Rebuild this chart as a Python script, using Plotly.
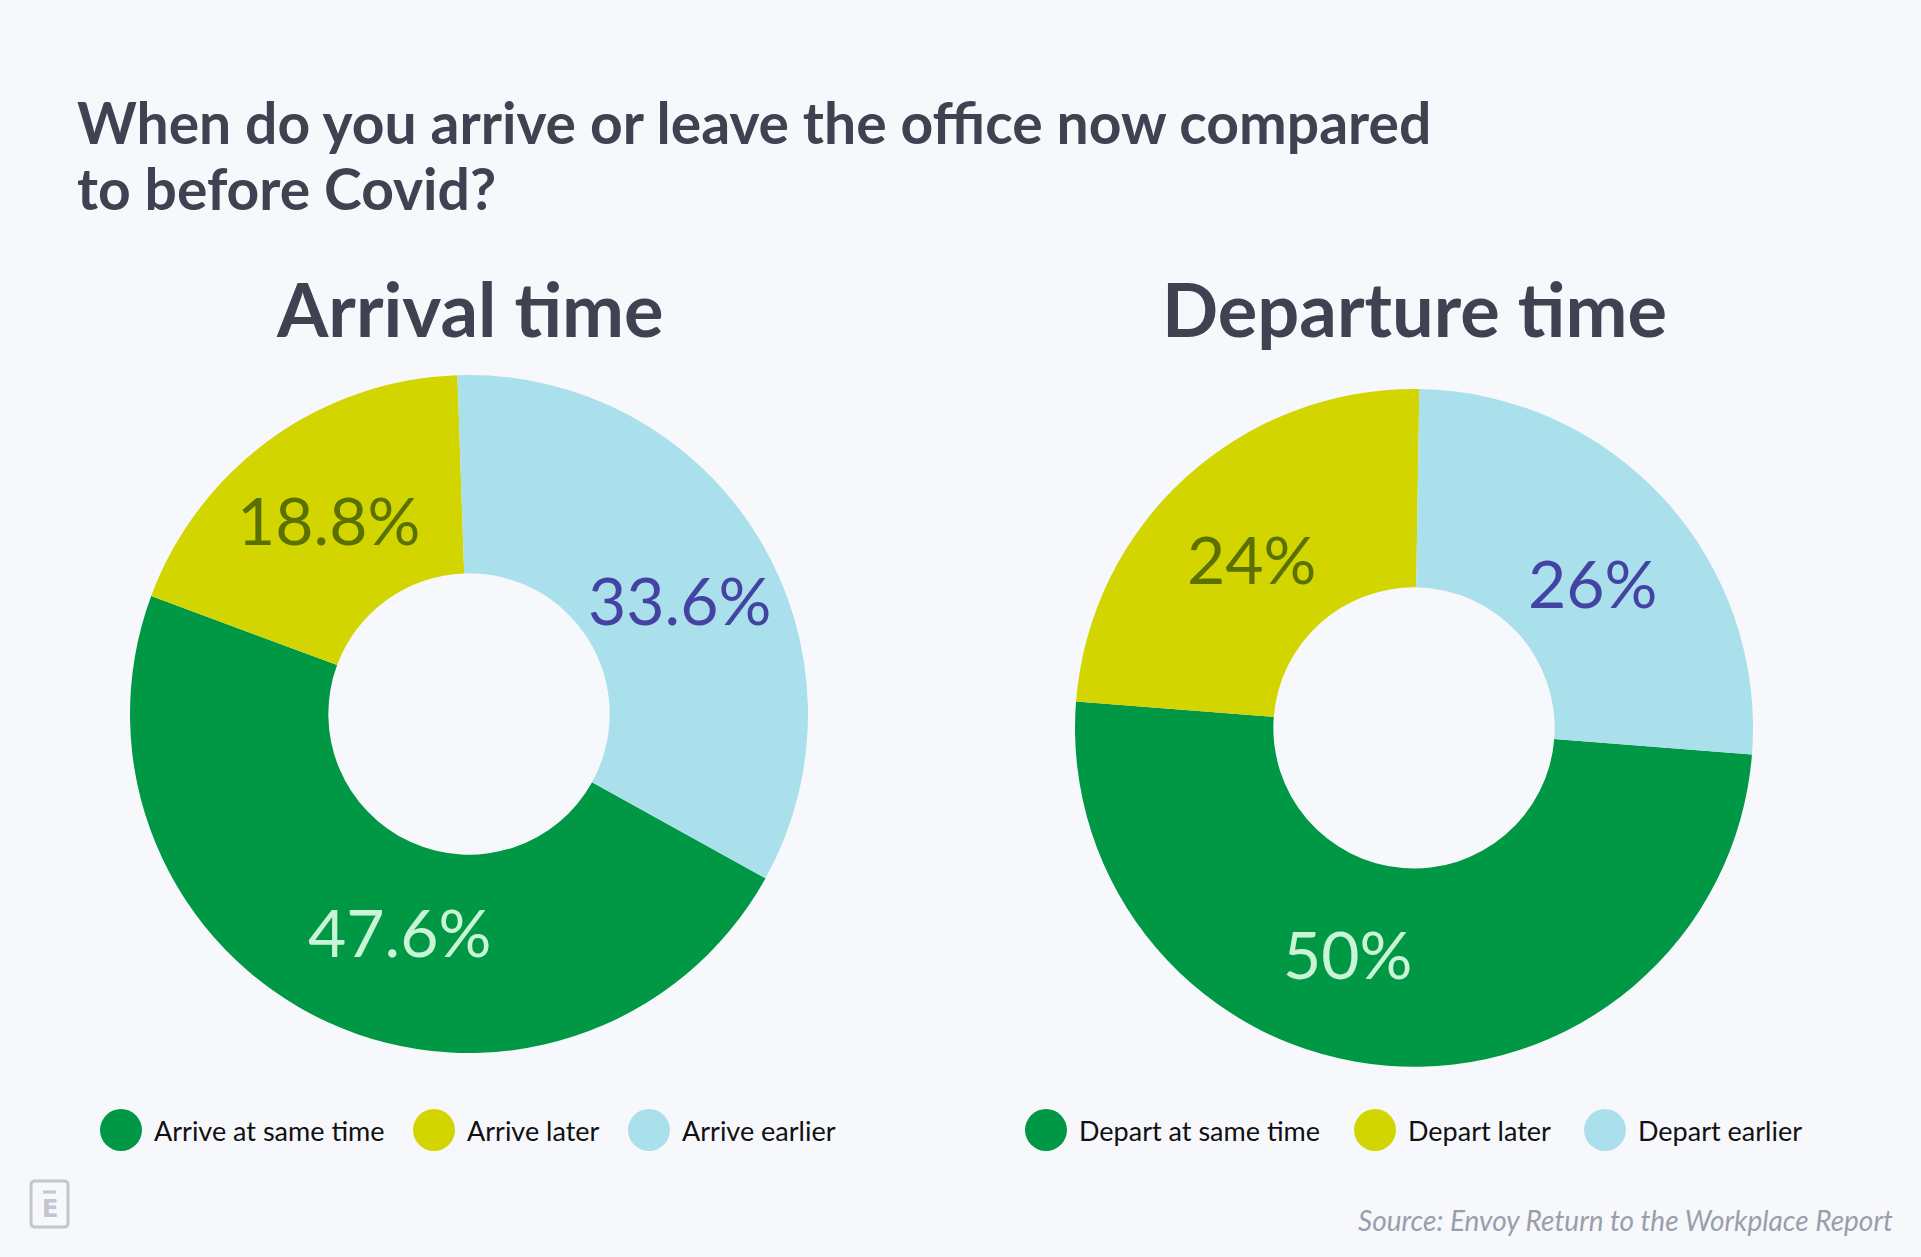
import math
import plotly.graph_objects as go

# ---------------- data ----------------
arrival_labels = ["Arrive at same time", "Arrive later", "Arrive earlier"]
arrival_values = [47.6, 18.8, 33.6]
arrival_text = ["47.6%", "18.8%", "33.6%"]

departure_labels = ["Depart at same time", "Depart later", "Depart earlier"]
departure_values = [50, 24, 26]
departure_text = ["50%", "24%", "26%"]

slice_colors = ["#009845", "#d2d500", "#aadfec"]
text_colors = ["#c9f5d6", "#5a7000", "#4443a3"]

title_lines = ["When do you arrive or leave the office now compared", "to before Covid?"]
subtitles = ["Arrival time", "Departure time"]
source_text = "Source: Envoy Return to the Workplace Report"

W, H = 1921, 1257
BG = "#f7f8fc"
DARK = "#3f4250"
FONT = "Lato"
HOLE = 0.415


def px(x):
    return x / W


def py(y):
    return 1 - y / H


fig = go.Figure()

pies = [
    dict(labels=arrival_labels, values=arrival_values, text=arrival_text,
         cx=469, cy=714, r=339, rot=119, nudge=[-7, 0, 3], rfac=[0.95, 1.0, 1.0]),
    dict(labels=departure_labels, values=departure_values, text=departure_text,
         cx=1414, cy=728, r=339, rot=94.5, nudge=[12, -1.5, 3], rfac=[0.98, 0.98, 0.96]),
]

annotations = []
shapes = []

for p in pies:
    fig.add_trace(go.Pie(
        labels=p["labels"], values=p["values"], text=p["text"],
        textinfo="none",
        marker=dict(colors=slice_colors, line=dict(width=0)),
        hole=HOLE, sort=False, direction="clockwise", rotation=p["rot"],
        showlegend=False, hoverinfo="label+percent",
        domain=dict(x=[px(p["cx"] - p["r"]), px(p["cx"] + p["r"])],
                    y=[py(p["cy"] + p["r"]), py(p["cy"] - p["r"])]),
    ))
    # slice labels placed at the middle of each slice's ring section
    total = sum(p["values"])
    cum = 0.0
    r_mid = p["r"] * (1 + HOLE) / 2
    for v, t, c, nd, rf in zip(p["values"], p["text"], text_colors, p["nudge"], p["rfac"]):
        ang = math.radians(p["rot"] + (cum + v / 2) / total * 360 + nd)
        cum += v
        lx = p["cx"] + r_mid * rf * math.sin(ang)
        ly = p["cy"] - r_mid * rf * math.cos(ang)
        annotations.append(dict(
            x=px(lx), y=py(ly), xref="paper", yref="paper",
            xanchor="center", yanchor="middle", text=t, showarrow=False,
            font=dict(family=FONT, size=66, color=c),
        ))

# main title (two lines)
for line, yc in zip(title_lines, [122, 188]):
    annotations.append(dict(
        x=px(75), y=py(yc), xref="paper", yref="paper", xanchor="left", yanchor="middle",
        text=line, showarrow=False, align="left",
        font=dict(family=FONT, size=57, color=DARK, weight=700),
    ))

# subtitles
for s, cx in zip(subtitles, [470, 1414]):
    annotations.append(dict(
        x=px(cx), y=py(308), xref="paper", yref="paper", xanchor="center", yanchor="middle",
        text=s, showarrow=False,
        font=dict(family=FONT, size=74, color=DARK, weight=700),
    ))

# legends
legend_x = [[121, 434, 649], [1046, 1375, 1605]]
legend_y = 1130
rad = 21
for labels, xs in zip([arrival_labels, departure_labels], legend_x):
    for lab, col, x in zip(labels, slice_colors, xs):
        shapes.append(dict(
            type="circle", xref="paper", yref="paper",
            x0=px(x - rad), x1=px(x + rad), y0=py(legend_y + rad), y1=py(legend_y - rad),
            fillcolor=col, line=dict(width=0),
        ))
        annotations.append(dict(
            x=px(x + rad + 10), y=py(legend_y), xref="paper", yref="paper",
            xanchor="left", yanchor="middle", text=lab, showarrow=False,
            font=dict(family=FONT, size=27, color="#111111"),
        ))

# source
annotations.append(dict(
    x=px(1895), y=py(1220), xref="paper", yref="paper", xanchor="right", yanchor="middle",
    text="<i>" + source_text + "</i>", showarrow=False,
    font=dict(family=FONT, size=28, color="#9a9eab"),
))

# logo
x0, x1, y0, y1, rr = 31, 68, 1181, 1227, 4
path = (f"M {x0+rr},{y0} L {x1-rr},{y0} Q {x1},{y0} {x1},{y0+rr} L {x1},{y1-rr} "
        f"Q {x1},{y1} {x1-rr},{y1} L {x0+rr},{y1} Q {x0},{y1} {x0},{y1-rr} "
        f"L {x0},{y0+rr} Q {x0},{y0} {x0+rr},{y0} Z")
fig.add_trace(go.Scatter(x=[None], y=[None], showlegend=False, xaxis="x", yaxis="y"))
shapes.append(dict(type="path", path=path, xref="x", yref="y",
                   line=dict(color="#c3c6cf", width=3), fillcolor="rgba(0,0,0,0)"))
shapes.append(dict(type="line", xref="x", yref="y", x0=43, x1=56, y0=1192, y1=1192,
                   line=dict(color="#c3c6cf", width=3)))
annotations.append(dict(
    x=49.5, y=1209, xref="x", yref="y", xanchor="center", yanchor="middle",
    text="<b>E</b>", showarrow=False, font=dict(family="DejaVu Sans", size=24, color="#c3c6cf"),
))

fig.update_layout(
    width=W, height=H,
    margin=dict(l=0, r=0, t=0, b=0),
    paper_bgcolor=BG, plot_bgcolor=BG,
    annotations=annotations, shapes=shapes,
    xaxis=dict(range=[0, W], visible=False, domain=[0, 1], fixedrange=True),
    yaxis=dict(range=[H, 0], visible=False, domain=[0, 1], fixedrange=True),
    showlegend=False,
)

fig.write_html("out.html")
